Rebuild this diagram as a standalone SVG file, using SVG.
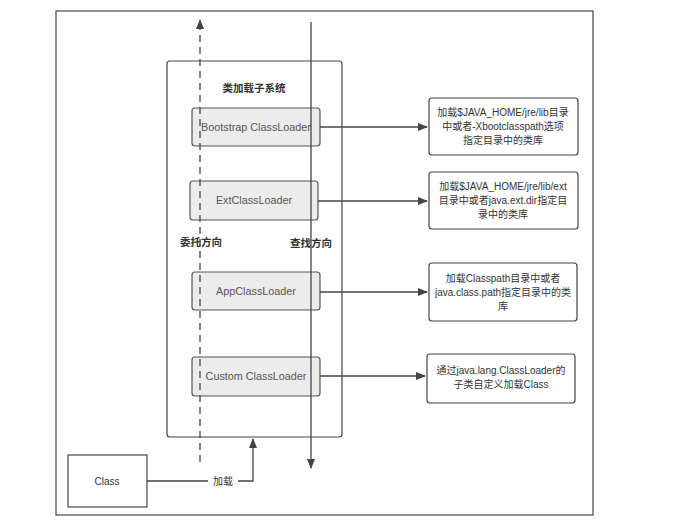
<svg xmlns="http://www.w3.org/2000/svg" width="678" height="523" viewBox="0 0 678 523">
<style>
text{font-family:"Liberation Sans","Noto Sans CJK SC",sans-serif;font-size:10px;fill:#333;text-anchor:middle}
.b{font-weight:bold;font-size:10.5px}
.lt{font-size:10.8px;fill:#555}
.ld{fill:#ececec;stroke:#555;stroke-width:1.2}
.nt{fill:#fff;stroke:#444;stroke-width:1.2}
.ln{stroke:#444;stroke-width:1.3;fill:none}
</style>
<defs><marker id="a" markerWidth="10" markerHeight="8" refX="9" refY="4" orient="auto" markerUnits="userSpaceOnUse"><path d="M0,0 L10,4 L0,8 Z" fill="#444"/></marker></defs>
<rect width="678" height="523" fill="#fff"/>
<rect x="56" y="11" width="537" height="504" fill="none" stroke="#444" stroke-width="1.2"/>
<g id="subsystem"><rect x="167" y="61" width="175" height="376" rx="3" fill="none" stroke="#444" stroke-width="1.2"/><text x="254" y="92" class="b">类加载子系统</text></g>
<g id="bootstrap"><rect class="ld" x="192" y="108" width="128" height="38" rx="3"/><text class="lt" x="256" y="131">Bootstrap ClassLoader</text></g>
<g id="ext"><rect class="ld" x="190" y="181" width="128" height="39" rx="3"/><text class="lt" x="254" y="204">ExtClassLoader</text></g>
<g id="app"><rect class="ld" x="192" y="272" width="128" height="38" rx="3"/><text class="lt" x="256" y="295">AppClassLoader</text></g>
<g id="custom"><rect class="ld" x="192" y="357" width="128" height="39" rx="3"/><text class="lt" x="256" y="380">Custom ClassLoader</text></g>
<g id="n1"><rect class="nt" x="429" y="98" width="149" height="57" rx="3"/><text x="503" y="116">加载$JAVA_HOME/jre/lib目录</text><text x="503" y="130">中或者-Xbootclasspath选项</text><text x="503" y="144">指定目录中的类库</text></g>
<g id="n2"><rect class="nt" x="429" y="172" width="149" height="57" rx="3"/><text x="503" y="190">加载$JAVA_HOME/jre/lib/ext</text><text x="503" y="204">目录中或者java.ext.dir指定目</text><text x="503" y="218">录中的类库</text></g>
<g id="n3"><rect class="nt" x="429" y="263" width="148" height="58" rx="3"/><text x="503" y="282">加载Classpath目录中或者</text><text x="503" y="296">java.class.path指定目录中的类</text><text x="503" y="310">库</text></g>
<g id="n4"><rect class="nt" x="427" y="354" width="148" height="49" rx="3"/><text x="501" y="374">通过java.lang.ClassLoader的</text><text x="501" y="388">子类自定义加载Class</text></g>
<g id="class"><rect class="nt" x="68" y="455" width="79" height="52" rx="0"/><text x="107" y="485">Class</text></g>
<g id="labels"><text x="201" y="246" class="b">委托方向</text><text x="311" y="247" class="b">查找方向</text></g>
<g id="connectors">
<line class="ln" x1="200" y1="462" x2="200" y2="20" stroke-dasharray="7,5" marker-end="url(#a)"/>
<line class="ln" x1="311" y1="22" x2="311" y2="468" marker-end="url(#a)"/>
<line class="ln" x1="320" y1="127" x2="427" y2="127" marker-end="url(#a)"/>
<line class="ln" x1="318" y1="201" x2="427" y2="201" marker-end="url(#a)"/>
<line class="ln" x1="320" y1="292" x2="427" y2="292" marker-end="url(#a)"/>
<line class="ln" x1="320" y1="376" x2="425" y2="376" marker-end="url(#a)"/>
<path class="ln" d="M147,481 H253 V439" marker-end="url(#a)"/>
<rect x="208" y="474" width="30" height="14" fill="#fff"/><text x="223" y="485">加载</text>
</g>
</svg>
